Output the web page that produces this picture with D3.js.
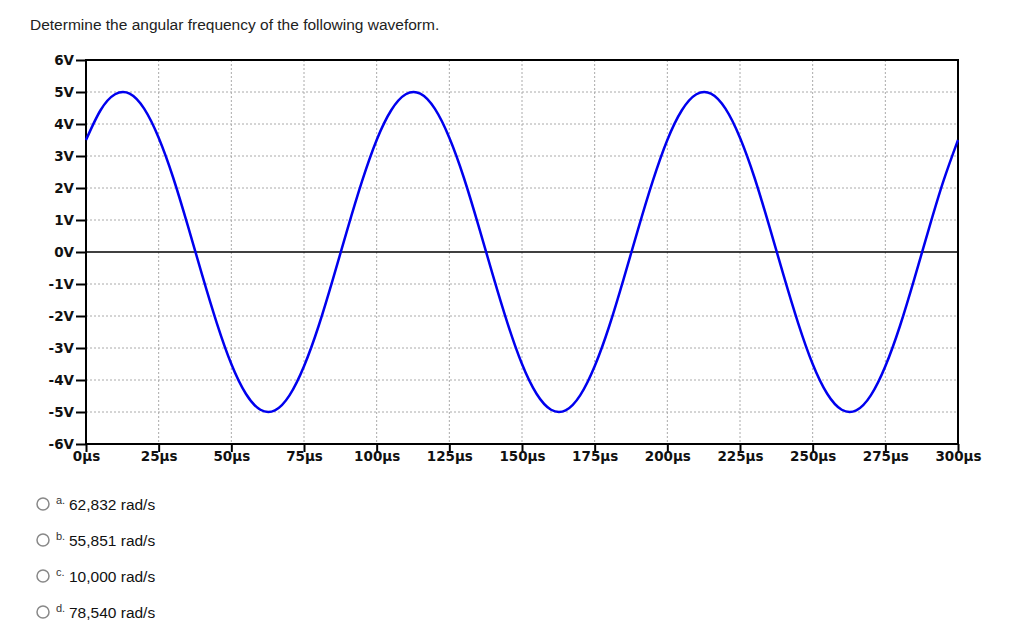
<!DOCTYPE html><html><head><meta charset="utf-8"><script src="https://cdn.jsdelivr.net/npm/d3@7"></script>
<style>body{margin:0;background:#fff}</style></head><body><svg id="c" width="1024" height="640"></svg>
<script>
const title="Determine the angular frequency of the following waveform.";
const timeUs=d3.range(0,301,5);
const period=[3.50,4.43,4.93,4.95,4.48,3.57,2.32,0.83,-0.73,-2.22,-3.50,-4.43,-4.93,-4.95,-4.48,-3.57,-2.32,-0.83,0.73,2.22];
const volts=[...period,...period,...period,3.50];
const xTicks=[0,25,50,75,100,125,150,175,200,225,250,275,300];
const yTicks=[6,5,4,3,2,1,0,-1,-2,-3,-4,-5,-6];
const options=["62,832 rad/s","55,851 rad/s","10,000 rad/s","78,540 rad/s"];
const letters=["a.","b.","c.","d."];
const svg=d3.select("#c");
const x=d3.scaleLinear().domain([0,300]).range([86,958]);
const y=d3.scaleLinear().domain([-6,6]).range([444,60]);
svg.append("text").attr("x",30).attr("y",30).attr("font-family","Liberation Sans, Arial").attr("font-size",15.5).attr("fill","#222").text(title);
const g=svg.append("g");
g.selectAll(".vg").data(xTicks.slice(1,-1)).join("line").attr("x1",x).attr("x2",x).attr("y1",60).attr("y2",444).attr("stroke","#aaa").attr("stroke-dasharray","2,2");
g.selectAll(".hg").data(yTicks.filter(v=>v!==6&&v!==-6&&v!==0)).join("line").attr("y1",y).attr("y2",y).attr("x1",86).attr("x2",958).attr("stroke","#aaa").attr("stroke-dasharray","2,2");
g.append("line").attr("x1",86).attr("x2",958).attr("y1",y(0)).attr("y2",y(0)).attr("stroke","#000").attr("stroke-width",1.5);
g.append("rect").attr("x",86).attr("y",60).attr("width",872).attr("height",384).attr("fill","none").attr("stroke","#000").attr("stroke-width",2);
const ya=svg.append("g").attr("transform","translate(86,0)").call(d3.axisLeft(y).tickValues(yTicks).tickSize(10).tickSizeOuter(0).tickFormat(d=>d+"V"));
const xa=svg.append("g").attr("transform","translate(0,444)").call(d3.axisBottom(x).tickValues(xTicks).tickSize(8).tickSizeOuter(0).tickFormat(d=>d+"μs"));
[ya,xa].forEach(a=>{a.select(".domain").remove();a.selectAll("line").attr("stroke","#000").attr("stroke-width",2);
a.selectAll("text").attr("font-family","DejaVu Sans").attr("font-weight","bold").attr("font-size",13.5).attr("fill","#111");});
ya.selectAll("text").attr("dx",1);
xa.selectAll("text").attr("dy",6);
svg.append("path").datum(timeUs.map((t,i)=>[t,volts[i]])).attr("fill","none").attr("stroke","#0000ee").attr("stroke-width",2.5)
 .attr("d",d3.line().x(d=>x(d[0])).y(d=>y(d[1])).curve(d3.curveNatural));
const opt=svg.selectAll(".o").data(options).join("g").attr("transform",(d,i)=>`translate(0,${504+i*36})`);
opt.append("circle").attr("cx",43).attr("cy",0).attr("r",6).attr("fill","#fff").attr("stroke","#888").attr("stroke-width",1.5);
opt.append("text").attr("x",56).attr("y",0).attr("font-family","Liberation Sans, Arial").attr("font-size",11).attr("fill","#333").text((d,i)=>letters[i]);
opt.append("text").attr("x",69).attr("y",6).attr("font-family","Liberation Sans, Arial").attr("font-size",15.5).attr("fill","#111").text(d=>d);
</script></body></html>
